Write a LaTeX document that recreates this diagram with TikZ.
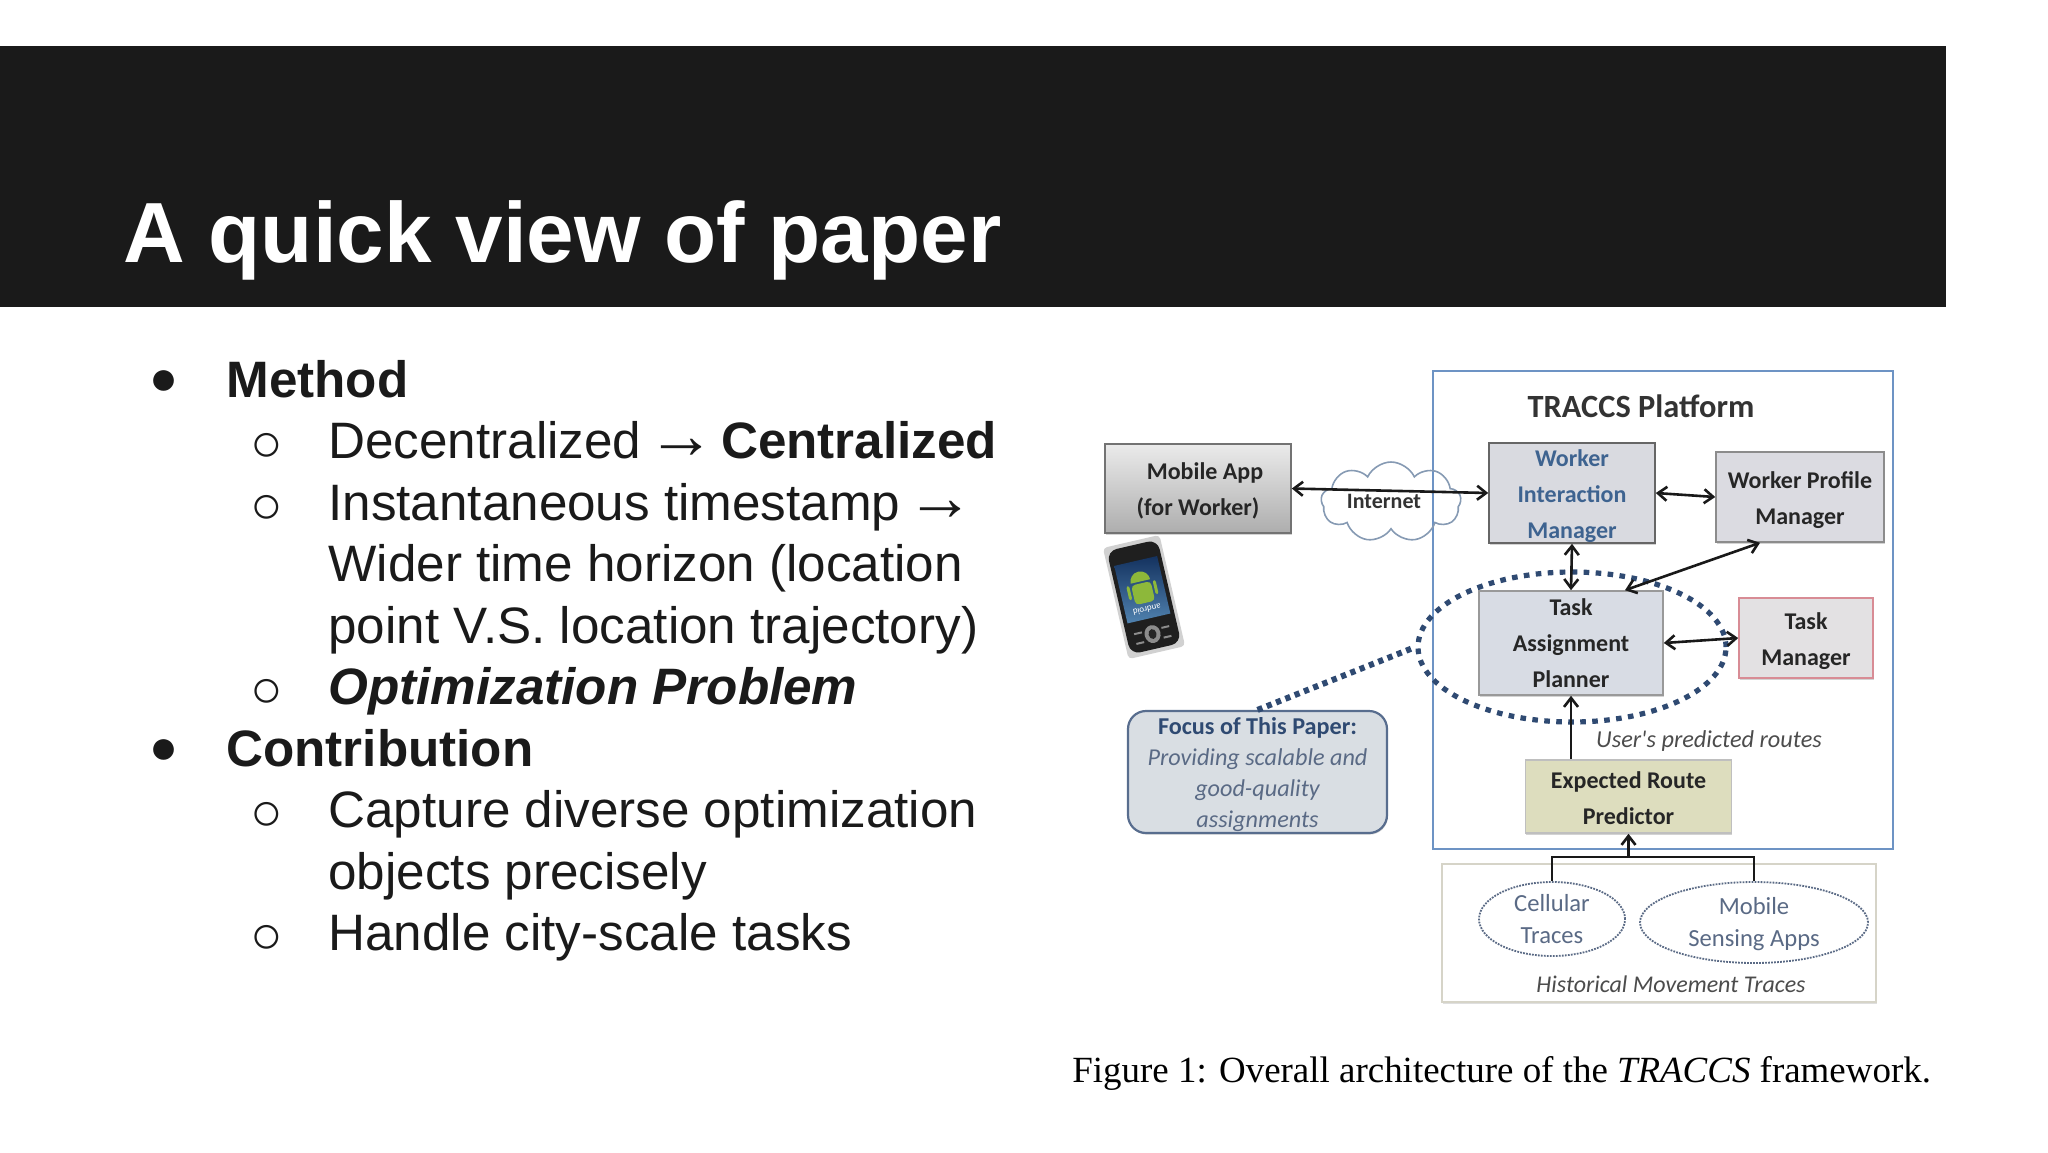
\documentclass[tikz,border=0pt]{standalone}
\usepackage{fontspec}
\setmainfont{Liberation Sans}
\newfontfamily\figfont{Carlito}
\newfontfamily\capfont{Liberation Serif}
\usetikzlibrary{arrows.meta,shapes.geometric,shapes.symbols,shadows}
\definecolor{barcol}{HTML}{1A1A1A}
\definecolor{platcol}{HTML}{6D93C4}
\definecolor{ringcol}{HTML}{2F4A72}
\definecolor{slatecol}{HTML}{5A6A85}
\definecolor{bluetxt}{HTML}{3E6390}
\definecolor{wimfill}{HTML}{D9DAE0}
\definecolor{wpmfill}{HTML}{DBDBE1}
\definecolor{tapfill}{HTML}{D8DCE4}
\definecolor{tmfill}{HTML}{E3E1E3}
\definecolor{tmline}{HTML}{D88C95}
\definecolor{erpfill}{HTML}{DDDDBE}
\definecolor{focusfill}{HTML}{D9DEE3}
\definecolor{focusline}{HTML}{586D8E}
\definecolor{robotcol}{HTML}{8DB83A}
\definecolor{screentop}{HTML}{14325F}
\definecolor{screenlow}{HTML}{5082AF}
\newcommand{\lift}[1]{\rule{0pt}{#1pt}}
\newcommand{\toarrow}{\makebox[25.6pt][c]{\fontsize{34}{30}\selectfont →}}
\tikzset{
    headline/.style={anchor=base west,inner sep=0pt,text=white,font=\fontsize{42.7}{50}\selectfont\bfseries},
    itemtxt/.style={anchor=base west,inner sep=0pt,text=barcol,font=\fontsize{25.6}{30}\selectfont},
    itemdot/.style={anchor=center,inner sep=0pt,text=barcol,font=\fontsize{24}{28}\selectfont},
    itemring/.style={anchor=center,inner sep=0pt,text=barcol,font=\fontsize{27}{30}\selectfont},
    platebox/.style={draw=#1,line width=0.8pt,align=center,inner sep=0pt,text=black!85,
        font=\figfont\bfseries\fontsize{12}{18}\selectfont,
        drop shadow={shadow xshift=0.4pt,shadow yshift=-0.8pt,opacity=0.35}},
    dataring/.style={draw=slatecol,line width=0.9pt,dash pattern=on 0.9pt off 0.6pt,align=center,inner sep=0pt,
        text=slatecol,font=\figfont\fontsize{12.3}{16}\selectfont},
    figlabel/.style={inner sep=0pt,font=\figfont\fontsize{12.1}{16}\selectfont},
    link/.style={draw=black!90,line width=1.3pt,>={Straight Barb[length=4.5pt,width=7pt]}},
}
\begin{document}
\begin{tikzpicture}[x=0.5pt,y=-0.5pt]
    \useasboundingbox (0,0) rectangle (2048,1152);
    %% Title bar
    \fill[barcol] (0,46) rectangle (1946,307);
    \node[headline] (title) at (123,262) {A quick view of paper};
    %% Items
    \node[itemdot] (m1) at (164,383) {●};
    \node[itemtxt,font=\fontsize{25.6}{30}\selectfont\bfseries] (t1) at (226,397) {Method};
    \node[itemring] (m2) at (267,447) {○};
    \node[itemtxt] (t2) at (328,458.5) {Decentralized \toarrow{} \textbf{Centralized}};
    \node[itemring] (m3) at (267,509) {○};
    \node[itemtxt] (t3) at (328,520) {Instantaneous timestamp \toarrow};
    \node[itemtxt] (t4) at (328,581.5) {Wider time horizon (location};
    \node[itemtxt] (t5) at (328,643) {point V.S. location trajectory)};
    \node[itemring] (m4) at (267,693) {○};
    \node[itemtxt,font=\fontsize{25.6}{30}\selectfont\bfseries\itshape] (t6) at (328,704.5) {Optimization Problem};
    \node[itemdot] (m5) at (164,752) {●};
    \node[itemtxt,font=\fontsize{25.6}{30}\selectfont\bfseries] (t7) at (226,766) {Contribution};
    \node[itemring] (m6) at (267,816) {○};
    \node[itemtxt] (t8) at (328,827.5) {Capture diverse optimization};
    \node[itemtxt] (t9) at (328,889) {objects precisely};
    \node[itemring] (m7) at (267,939) {○};
    \node[itemtxt] (t10) at (328,950) {Handle city-scale tasks};
    %% Platform frame
    \node[draw=platcol,line width=0.9pt,minimum width=230pt,minimum height=239pt] (platform) at (1663,610) {};
    \node[figlabel,font=\figfont\bfseries\fontsize{16.2}{18}\selectfont,text=black!80] (platname) at (1641,406) {TRACCS Platform};
    %% Focus ring
    \node[draw=ringcol,ellipse,line width=2.6pt,dash pattern=on 2.8pt off 3.2pt,minimum width=154pt,minimum height=75pt,inner sep=0pt] (ring) at (1572,647) {};
    %% Boxes
    \node[draw=platcol!75!black!70,cloud,cloud puffs=9,cloud puff arc=130,aspect=1.7,line width=0.8pt,minimum width=70pt,minimum height=40pt,inner sep=0pt] (cloud) at (1391,502) {};
    \node[figlabel,font=\figfont\bfseries\fontsize{11}{13}\selectfont,text=black!80] (net) at (1384,501) {Internet};
    \node[platebox=black!55,top color=black!8,bottom color=black!32,minimum width=93pt,minimum height=44.5pt] (app) at (1198,488.5) {\lift{11}\hspace*{7pt}Mobile App\\(for Worker)};
    \node[platebox=black!60,fill=wimfill,text=bluetxt,minimum width=83pt,minimum height=49pt] (wim) at (1572,493) {\lift{12}Worker\\Interaction\\Manager};
    \node[platebox=black!45,fill=wpmfill,minimum width=84pt,minimum height=45pt] (wpm) at (1800,497) {\lift{12}Worker Profile\\Manager};
    \node[platebox=black!40,fill=tapfill,minimum width=92pt,minimum height=52pt] (tap) at (1571,643) {Task\\Assignment\\Planner};
    \node[platebox=tmline,fill=tmfill,minimum width=67pt,minimum height=40pt] (tm) at (1806,638) {\lift{12}Task\\Manager};
    \node[platebox=black!25,fill=erpfill,minimum width=103pt,minimum height=36.5pt] (erp) at (1628.5,796.5) {\lift{10.3}Expected Route\\Predictor};
    \node[platebox=focusline,fill=focusfill,rounded corners=9pt,line width=1.1pt,text=slatecol,minimum width=129.5pt,minimum height=61pt,
        font=\figfont\mdseries\fontsize{12.1}{15.5}\selectfont\itshape] (focus) at (1257.5,772) {\lift{11.5}{\upshape\bfseries\color{ringcol}Focus of This Paper:}\\Providing scalable and\\good-quality\\assignments};
    \node[figlabel,font=\figfont\itshape\fontsize{12.15}{16}\selectfont,text=black!70] (routes) at (1709,741) {User's predicted routes};
    %% Historical traces
    \node[draw=yellow!25!black!25,line width=0.8pt,minimum width=217pt,minimum height=69pt,
        drop shadow={shadow xshift=0.4pt,shadow yshift=-0.8pt,opacity=0.25},fill=white] (hist) at (1659,933) {};
    \node[dataring,ellipse,minimum width=73pt,minimum height=37pt] (cell) at (1552,919) {Cellular\\Traces};
    \node[dataring,ellipse,minimum width=114pt,minimum height=40.5pt] (sens) at (1754,922.5) {\lift{10.5}Mobile\\Sensing Apps};
    \node[figlabel,font=\figfont\itshape\fontsize{12}{16}\selectfont,text=black!70] (histname) at (1671,984) {Historical Movement Traces};
    %% Phone
    \begin{scope}[shift={(1144,597)},rotate=13]
        \fill[black!18,rounded corners=2pt] (-29,-57) rectangle (29,57);
        \fill[black!88,rounded corners=5pt] (-26,-53) rectangle (26,53);
        \shade[top color=screentop,bottom color=screenlow] (-22,-37) rectangle (22,22);
        %% robot
        \fill[robotcol] (-10,-16) arc (180:360:10 and 10) -- cycle;
        \fill[robotcol,rounded corners=2pt] (-10,-14) rectangle (10,6);
        \fill[robotcol,rounded corners=1pt] (-15,-14) rectangle (-12,0);
        \fill[robotcol,rounded corners=1pt] (12,-14) rectangle (15,0);
        \node[rotate=193,inner sep=0pt,text=white,font=\figfont\fontsize{4.5}{5}\selectfont] (droid) at (0,13) {android};
        \fill[black!45] (0,38) ellipse (8 and 9);
        \fill[black!85] (0,38) ellipse (4 and 5);
        \fill[black!45] (-18,33) rectangle (-10,35);
        \fill[black!45] (10,33) rectangle (18,35);
        \fill[black!45] (-18,43) rectangle (-10,45);
        \fill[black!45] (10,43) rectangle (18,45);
    \end{scope}
    %% Links
    \draw[link,<->] (app.east) -- (wim.west);
    \draw[link,<->] (wim.east) -- (wpm.west);
    \draw[link,<->] (wim.south) -- (tap.north);
    \draw[link,<->] ([xshift=-20pt]wpm.south) -- ([xshift=27pt]tap.north);
    \draw[link,<->] (tap.east) -- (tm.west);
    \draw[link,->] (tap.south |- erp.north) -- (tap.south);
    \coordinate (busL) at (1552,857);
    \coordinate (busM) at (1628.5,857);
    \coordinate (busR) at (1754,857);
    \draw[link] (cell.north) -- (busL) -- (busR) -- (sens.north);
    \draw[link,->] (busM) -- (erp.south);
    \draw[draw=ringcol,line width=3pt,dash pattern=on 2.6pt off 2.4pt] (focus.north) -- (ring.west);
    %% Caption
    \node[anchor=base west,inner sep=0pt,text=black,font=\capfont\fontsize{18.47}{22}\selectfont] (caption) at (1072,1082) {Figure 1: Overall architecture of the \textit{TRACCS} framework.};
\end{tikzpicture}
\end{document}
